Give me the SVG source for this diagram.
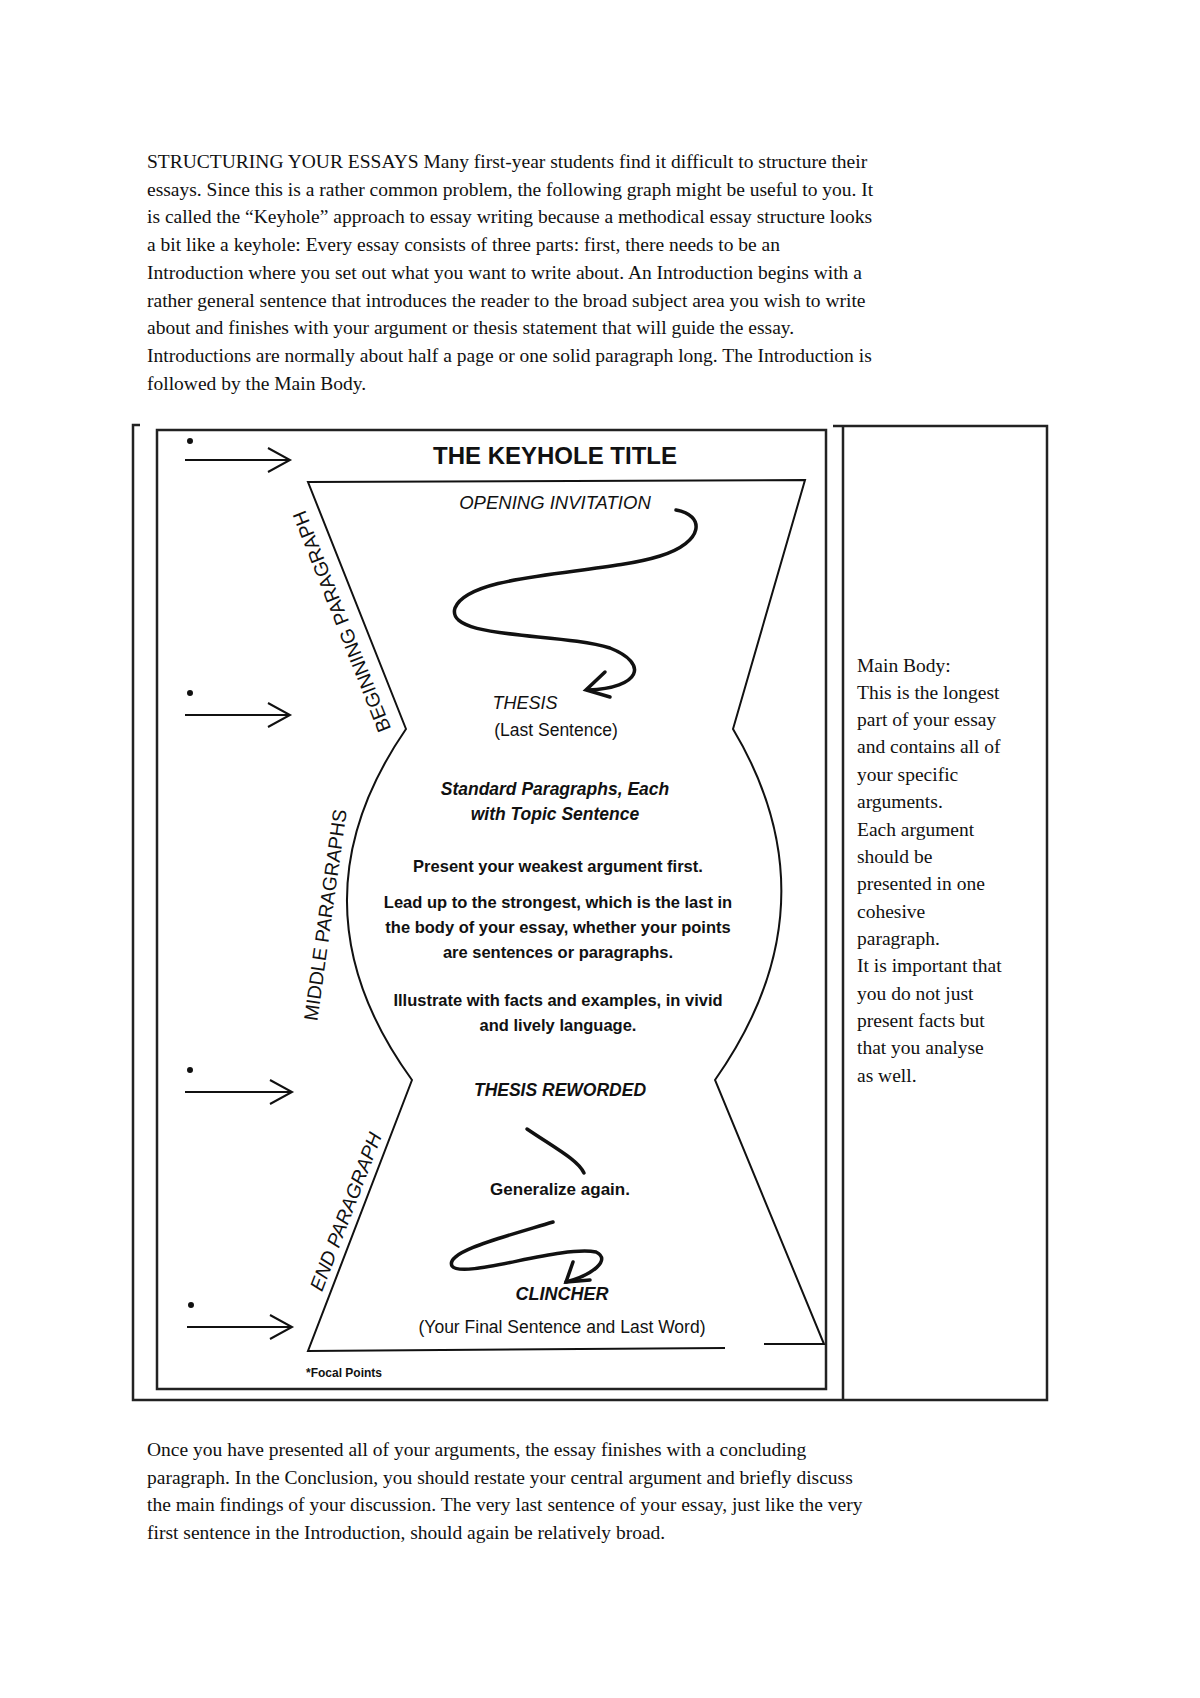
<svg xmlns="http://www.w3.org/2000/svg" width="1200" height="1698" viewBox="0 0 1200 1698">
<style>
.p{font-family:"Liberation Serif",serif;font-size:19.5px;fill:#111}
.s{font-family:"Liberation Sans",Arial,sans-serif;fill:#111;text-anchor:middle}
.b{font-weight:bold}
.i{font-style:italic}
.ln{fill:none;stroke:#111;stroke-width:2}
.sq{fill:none;stroke:#111;stroke-width:3.5;stroke-linecap:round}
</style>
<rect width="1200" height="1698" fill="#fff"/>
<g id="intro" class="p">
<text x="147" y="168">STRUCTURING YOUR ESSAYS Many first-year students find it difficult to structure their</text>
<text x="147" y="196">essays. Since this is a rather common problem, the following graph might be useful to you. It</text>
<text x="147" y="223">is called the “Keyhole” approach to essay writing because a methodical essay structure looks</text>
<text x="147" y="251">a bit like a keyhole: Every essay consists of three parts: first, there needs to be an</text>
<text x="147" y="279">Introduction where you set out what you want to write about. An Introduction begins with a</text>
<text x="147" y="307">rather general sentence that introduces the reader to the broad subject area you wish to write</text>
<text x="147" y="334">about and finishes with your argument or thesis statement that will guide the essay.</text>
<text x="147" y="362">Introductions are normally about half a page or one solid paragraph long.  The Introduction is</text>
<text x="147" y="390">followed by the Main Body.</text>
</g>
<g id="frame">
<path d="M140,425 H133 V1400 H1047 V426 H833" fill="none" stroke="#222" stroke-width="2.5"/>
<line x1="843" y1="426" x2="843" y2="1400" stroke="#222" stroke-width="2.5"/>
<rect x="157" y="430" width="669" height="959" fill="none" stroke="#222" stroke-width="2.5"/>
</g>
<g id="keyhole">
<path class="ln" d="M725,1348 L308,1351 L412,1080 Q285,905 406,729 L308,482 L805,480 L733,729 Q838,905 715,1080 L824,1344 H764"/>
</g>
<g id="focal-arrows" class="ln">
<path d="M185,460 H290 M268,448 L290,460 L268,472"/>
<path d="M185,715 H290 M268,703 L290,715 L268,727"/>
<path d="M185,1092 H292 M270,1080 L292,1092 L270,1104"/>
<path d="M187,1327 H292 M270,1315 L292,1327 L270,1339"/>
<circle cx="190" cy="441" r="2" fill="#111"/>
<circle cx="190" cy="693" r="2" fill="#111"/>
<circle cx="190" cy="1070" r="2" fill="#111"/>
<circle cx="191" cy="1305" r="2" fill="#111"/>
</g>
<g id="connectors">
<path class="sq" d="M676,510 C705,515 705,542 660,556 C600,575 470,572 455,608 C445,640 560,632 610,648 C650,664 640,688 588,690"/>
<path class="sq" d="M605,672 L586,690 L610,697"/>
<path class="sq" d="M527,1129 C555,1148 578,1160 584,1173"/>
<path class="sq" d="M553,1222 C500,1238 445,1252 452,1266 C462,1280 560,1245 596,1252 C612,1260 592,1275 566,1282"/>
<path class="sq" d="M573,1262 L566,1282 L590,1280"/>
</g>
<g id="labels">
<text class="s b" x="555" y="464" font-size="24">THE KEYHOLE TITLE</text>
<text class="s i" x="555" y="509" font-size="18.5">OPENING INVITATION</text>
<text class="s i" x="525" y="709" font-size="18">THESIS</text>
<text class="s" x="556" y="736" font-size="17.5">(Last Sentence)</text>
<text class="s b i" x="555" y="795" font-size="17.5">Standard Paragraphs, Each</text>
<text class="s b i" x="555" y="820" font-size="17.5">with Topic Sentence</text>
<text class="s b" x="558" y="872" font-size="16.5">Present your weakest argument first.</text>
<text class="s b" x="558" y="908" font-size="16.5">Lead up to the strongest, which is the last in</text>
<text class="s b" x="558" y="933" font-size="16.5">the body of your essay, whether your points</text>
<text class="s b" x="558" y="958" font-size="16.5">are sentences or paragraphs.</text>
<text class="s b" x="558" y="1006" font-size="16.5">Illustrate with facts and examples, in vivid</text>
<text class="s b" x="558" y="1031" font-size="16.5">and lively language.</text>
<text class="s b i" x="560" y="1096" font-size="17.5">THESIS REWORDED</text>
<text class="s b" x="560" y="1195" font-size="17">Generalize again.</text>
<text class="s b i" x="562" y="1300" font-size="18">CLINCHER</text>
<text class="s" x="562" y="1333" font-size="17.5">(Your Final Sentence and Last Word)</text>
<text class="s b" x="306" y="1377" font-size="12" style="text-anchor:start">*Focal Points</text>
<text class="s" font-size="19.5" transform="translate(348,619) rotate(-111.5)">BEGINNING PARAGRAPH</text>
<text class="s" font-size="19.5" transform="translate(332,916) rotate(-82)">MIDDLE  PARAGRAPHS</text>
<text class="s i" font-size="19.5" transform="translate(352,1214) rotate(-69)">END PARAGRAPH</text>
</g>
<g id="main-body" class="p">
<text x="857" y="672">Main Body:</text>
<text x="857" y="699">This is the longest</text>
<text x="857" y="726">part of your essay</text>
<text x="857" y="753">and contains all of</text>
<text x="857" y="781">your specific</text>
<text x="857" y="808">arguments.</text>
<text x="857" y="836">Each argument</text>
<text x="857" y="863">should be</text>
<text x="857" y="890">presented in one</text>
<text x="857" y="918">cohesive</text>
<text x="857" y="945">paragraph.</text>
<text x="857" y="972">It is important that</text>
<text x="857" y="1000">you do not just</text>
<text x="857" y="1027">present facts but</text>
<text x="857" y="1054">that you analyse</text>
<text x="857" y="1082">as well.</text>
</g>
<g id="conclusion" class="p">
<text x="147" y="1456">Once you have presented all of your arguments, the essay finishes with a concluding</text>
<text x="147" y="1484">paragraph. In the Conclusion, you should restate your central argument and briefly discuss</text>
<text x="147" y="1511">the main findings of your discussion. The very last sentence of your essay, just like the very</text>
<text x="147" y="1539">first sentence in the Introduction, should again be relatively broad.</text>
</g>
</svg>
